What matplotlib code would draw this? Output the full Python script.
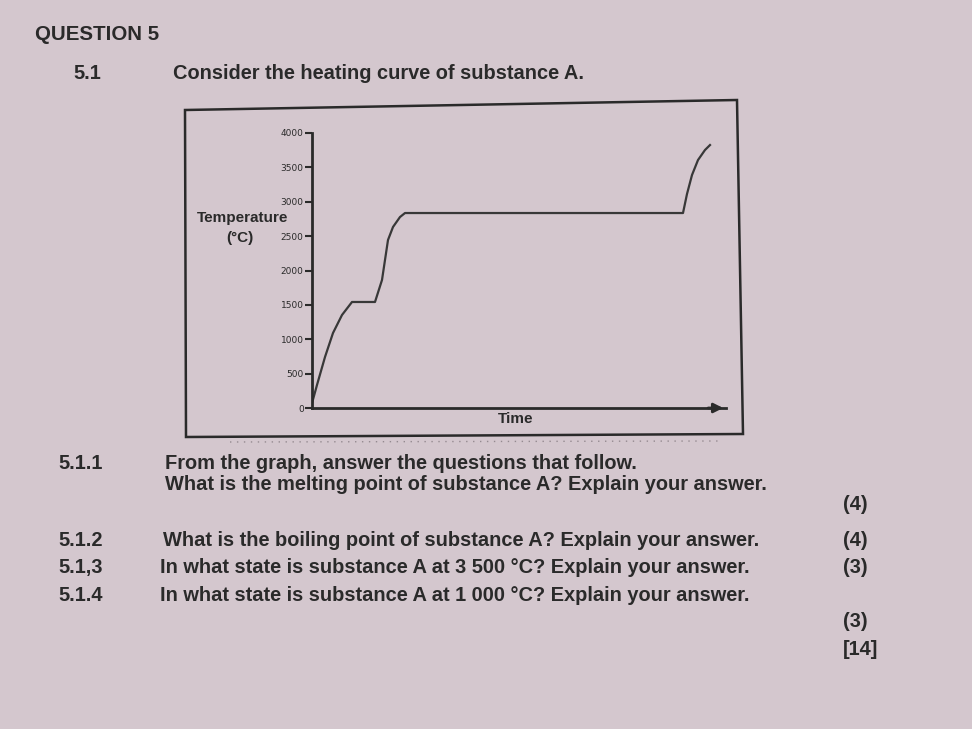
import numpy as np
import matplotlib
matplotlib.use("Agg")
import matplotlib.pyplot as plt
from matplotlib.patches import Polygon

# heating curve (time in arbitrary units)
time = [0, 5, 13, 21, 30, 40, 63, 70, 73, 76, 81, 88, 93, 371, 375, 380, 386, 393, 398]
temp = [70, 335, 742, 1091, 1353, 1542, 1542, 1862, 2153, 2444, 2633, 2778, 2836, 2836,
        3113, 3389, 3607, 3753, 3825]

yticks = [0, 500, 1000, 1500, 2000, 2500, 3000, 3500, 4000]
ytick_labels = ["0", "500", "1000", "1500", "2000", "2500", "3000", "3500", "4000"]

questions = [
    ("5.1.1", "From the graph, answer the questions that follow."),
    ("", "What is the melting point of substance A? Explain your answer."),
    ("5.1.2", "What is the boiling point of substance A? Explain your answer."),
    ("5.1,3", "In what state is substance A at 3 500 \u00b0C? Explain your answer."),
    ("5.1.4", "In what state is substance A at 1 000 \u00b0C? Explain your answer."),
]
marks = ["(4)", "(4)", "(3)", "(3)", "[14]"]

bg = "#d4c7ce"
ink = "#2a2a2a"
W, H = 972, 729


def fx(px):
    return px / W


def fy(py):
    return 1 - py / H


fig = plt.figure(figsize=(9.72, 7.29), dpi=100, facecolor=bg)
font = "Liberation Sans"
body = dict(fontsize=14.4, fontweight="bold", family=font, color=ink, va="baseline")

fig.text(fx(35), fy(40), "QUESTION 5", **dict(body, fontsize=14.8))
fig.text(fx(73), fy(79), "5.1", **body)
fig.text(fx(173), fy(79), "Consider the heating curve of substance A.", **body)

# the box round the graph
box = Polygon([(fx(185), fy(110)), (fx(737), fy(100)), (fx(743), fy(434)), (fx(186), fy(437))],
              closed=True, fill=False, lw=1.8, edgecolor=ink, transform=fig.transFigure)
fig.patches.append(box)
fig.add_artist(plt.Line2D([fx(230), fx(720)], [fy(442), fy(441)], lw=1, ls=(0, (1, 4)),
                          color="#7a7076", alpha=0.7, transform=fig.transFigure))

ax = fig.add_axes([fx(312), fy(408), fx(726) - fx(312), fy(133) - fy(408)])
ax.set_facecolor("none")
ax.plot(time, temp, color="#383838", lw=1.6)
ax.set_xlim(0, 414)
ax.set_ylim(0, 4000)
for s in ["top", "right"]:
    ax.spines[s].set_visible(False)
for s in ["left", "bottom"]:
    ax.spines[s].set_linewidth(2)
    ax.spines[s].set_color(ink)
ax.set_xticks([])
ax.set_yticks(yticks)
ax.set_yticklabels(ytick_labels)
ax.tick_params(axis="y", direction="out", length=5, width=1.5, pad=1,
               labelsize=6.5, colors=ink)
ax.annotate("", xy=(1, 0), xytext=(0.95, 0), xycoords="axes fraction",
            arrowprops=dict(arrowstyle="-|>", color=ink, lw=2, mutation_scale=14))

label = dict(fontsize=11, fontweight="bold", family=font, color=ink, ha="center", va="center")
fig.text(fx(243), fy(218), "Temperature", **label)
fig.text(fx(240), fy(238), "(\u00b0C)", **label)
fig.text(fx(516), fy(419), "Time", **label)

rows = [469, 490, 546, 573, 601]
starts = [165, 165, 163, 160, 160]
for (num, q), y, x in zip(questions, rows, starts):
    if num:
        fig.text(fx(58), fy(y), num, **body)
    fig.text(fx(x), fy(y), q, **body)

mark_y = [510, 546, 573, 627, 655]
for m, y in zip(marks, mark_y):
    fig.text(fx(843), fy(y), m, **body)

fig.savefig("out.png", dpi=100, facecolor=bg)
